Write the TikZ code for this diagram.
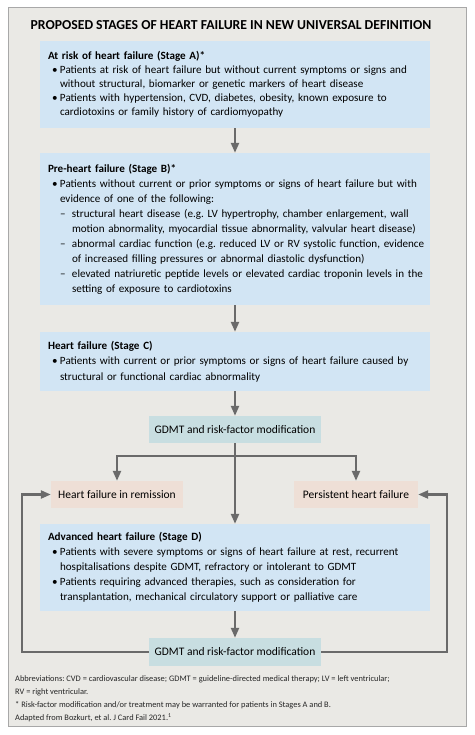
\documentclass[tikz,border=0pt]{standalone}
\usepackage{fontspec}
\setmainfont{Carlito}
\usetikzlibrary{arrows.meta,calc}
\definecolor{panelfill}{HTML}{EAE9E5}
\definecolor{panelline}{HTML}{A8A8A8}
\definecolor{stageblue}{HTML}{D2E5F4}
\definecolor{gdmtfill}{HTML}{C8DEE1}
\definecolor{pinkfill}{HTML}{EEDFD6}
\definecolor{arrowgray}{HTML}{6A6A6A}
\frenchspacing
\hfuzz=50pt
\newcommand\hd[1]{\mbox{\textbf{#1}}}
\newcommand\bul[1]{\hspace*{4pt}\makebox[8pt][l]{\textbullet}\mbox{#1}}
\newcommand\cont[1]{\hspace*{12pt}\mbox{#1}}
\newcommand\dsh[1]{\hspace*{12pt}\makebox[12pt][l]{–}\mbox{#1}}
\newcommand\dcont[1]{\hspace*{24pt}\mbox{#1}}
\begin{document}
\begin{tikzpicture}[x=1pt,y=-1pt,
  stagebox/.style={fill=stageblue, draw=none, text width=374pt, inner xsep=8pt, inner ysep=0pt,
    align=left, font=\fontsize{11.1}{14}\selectfont, anchor=center},
  smallbox/.style={draw=none, inner sep=0pt, anchor=center, font=\fontsize{11.5}{13}\selectfont},
  arr/.style={draw=arrowgray, line width=2.2pt, -{Triangle[length=10pt,width=8pt]}},
  note/.style={anchor=west, inner sep=0pt, font=\fontsize{8.4}{10}\selectfont, text=black!85}
]
\useasboundingbox (0,0) rectangle (474,735);
\fill[white] (0,0) rectangle (474,735);
\draw[draw=panelline, fill=panelfill, line width=1pt] (8,8) rectangle (466,726);

\node[anchor=center, inner sep=0pt, font=\bfseries\fontsize{13.7}{15}\selectfont] (title) at (231,25)
  {PROPOSED STAGES OF HEART FAILURE IN NEW UNIVERSAL DEFINITION};

\node[stagebox, minimum height=87pt] (A) at (235,84.5) {%
\hd{At risk of heart failure (Stage A)*}\\
\bul{Patients at risk of heart failure but without current symptoms or signs and}\\
\cont{without structural, biomarker or genetic markers of heart disease}\\
\bul{Patients with hypertension, CVD, diabetes, obesity, known exposure to}\\
\cont{cardiotoxins or family history of cardiomyopathy}};

\node[stagebox, minimum height=152pt, font=\fontsize{11.1}{15}\selectfont] (B) at (235,229) {%
\hd{Pre-heart failure (Stage B)*}\\
\bul{Patients without current or prior symptoms or signs of heart failure but with}\\
\cont{evidence of one of the following:}\\
\dsh{structural heart disease (e.g. LV hypertrophy, chamber enlargement, wall}\\
\dcont{motion abnormality, myocardial tissue abnormality, valvular heart disease)}\\
\dsh{abnormal cardiac function (e.g. reduced LV or RV systolic function, evidence}\\
\dcont{of increased filling pressures or abnormal diastolic dysfunction)}\\
\dsh{elevated natriuretic peptide levels or elevated cardiac troponin levels in the}\\
\dcont{setting of exposure to cardiotoxins}};

\node[stagebox, minimum height=59pt, font=\fontsize{11.1}{15.5}\selectfont] (C) at (235,361.5) {%
\hd{Heart failure (Stage C)}\\
\bul{Patients with current or prior symptoms or signs of heart failure caused by}\\
\cont{structural or functional cardiac abnormality}};

\node[smallbox, fill=gdmtfill, minimum width=172pt, minimum height=27pt] (G1) at (235,429.5)
  {GDMT and risk-factor modification};

\node[smallbox, fill=pinkfill, minimum width=132pt, minimum height=27pt] (R) at (117,494.5)
  {Heart failure in remission};

\node[smallbox, fill=pinkfill, minimum width=124pt, minimum height=27pt] (P) at (356,494.5)
  {Persistent heart failure};

\node[stagebox, minimum height=87pt, font=\fontsize{11.1}{15}\selectfont] (D) at (235,567.5) {%
\hd{Advanced heart failure (Stage D)}\\
\bul{Patients with severe symptoms or signs of heart failure at rest, recurrent}\\
\cont{hospitalisations despite GDMT, refractory or intolerant to GDMT}\\
\bul{Patients requiring advanced therapies, such as consideration for}\\
\cont{transplantation, mechanical circulatory support or palliative care}};

\node[smallbox, fill=gdmtfill, minimum width=172pt, minimum height=28pt] (G2) at (235,652)
  {GDMT and risk-factor modification};

\draw[arr] (A.south) -- (B.north);
\draw[arr] (B.south) -- (C.north);
\draw[arr] (C.south) -- (G1.north);
\coordinate (br) at (235,456);
\draw[arr] (G1.south) -- (D.north);
\draw[arr] (br) -| (R.north);
\draw[arr] (br) -| (P.north);
\draw[arr] (D.south) -- (G2.north);
\coordinate (lc) at (22,494.5);
\coordinate (rc) at (447,494.5);
\draw[arr] (G2.west) -| (lc) -- (R.west);
\draw[arr] (G2.east) -| (rc) -- (P.east);

\node[note] (n1) at (15,679) {Abbreviations: CVD = cardiovascular disease; GDMT = guideline-directed medical therapy; LV = left ventricular;};
\node[note] (n2) at (15,692) {RV = right ventricular.};
\node[note] (n3) at (15,705) {* Risk-factor modification and/or treatment may be warranted for patients in Stages A and B.};
\node[note] (n4) at (15,718) {Adapted from Bozkurt, et al. J Card Fail 2021.\textsuperscript{1}};
\end{tikzpicture}
\end{document}
